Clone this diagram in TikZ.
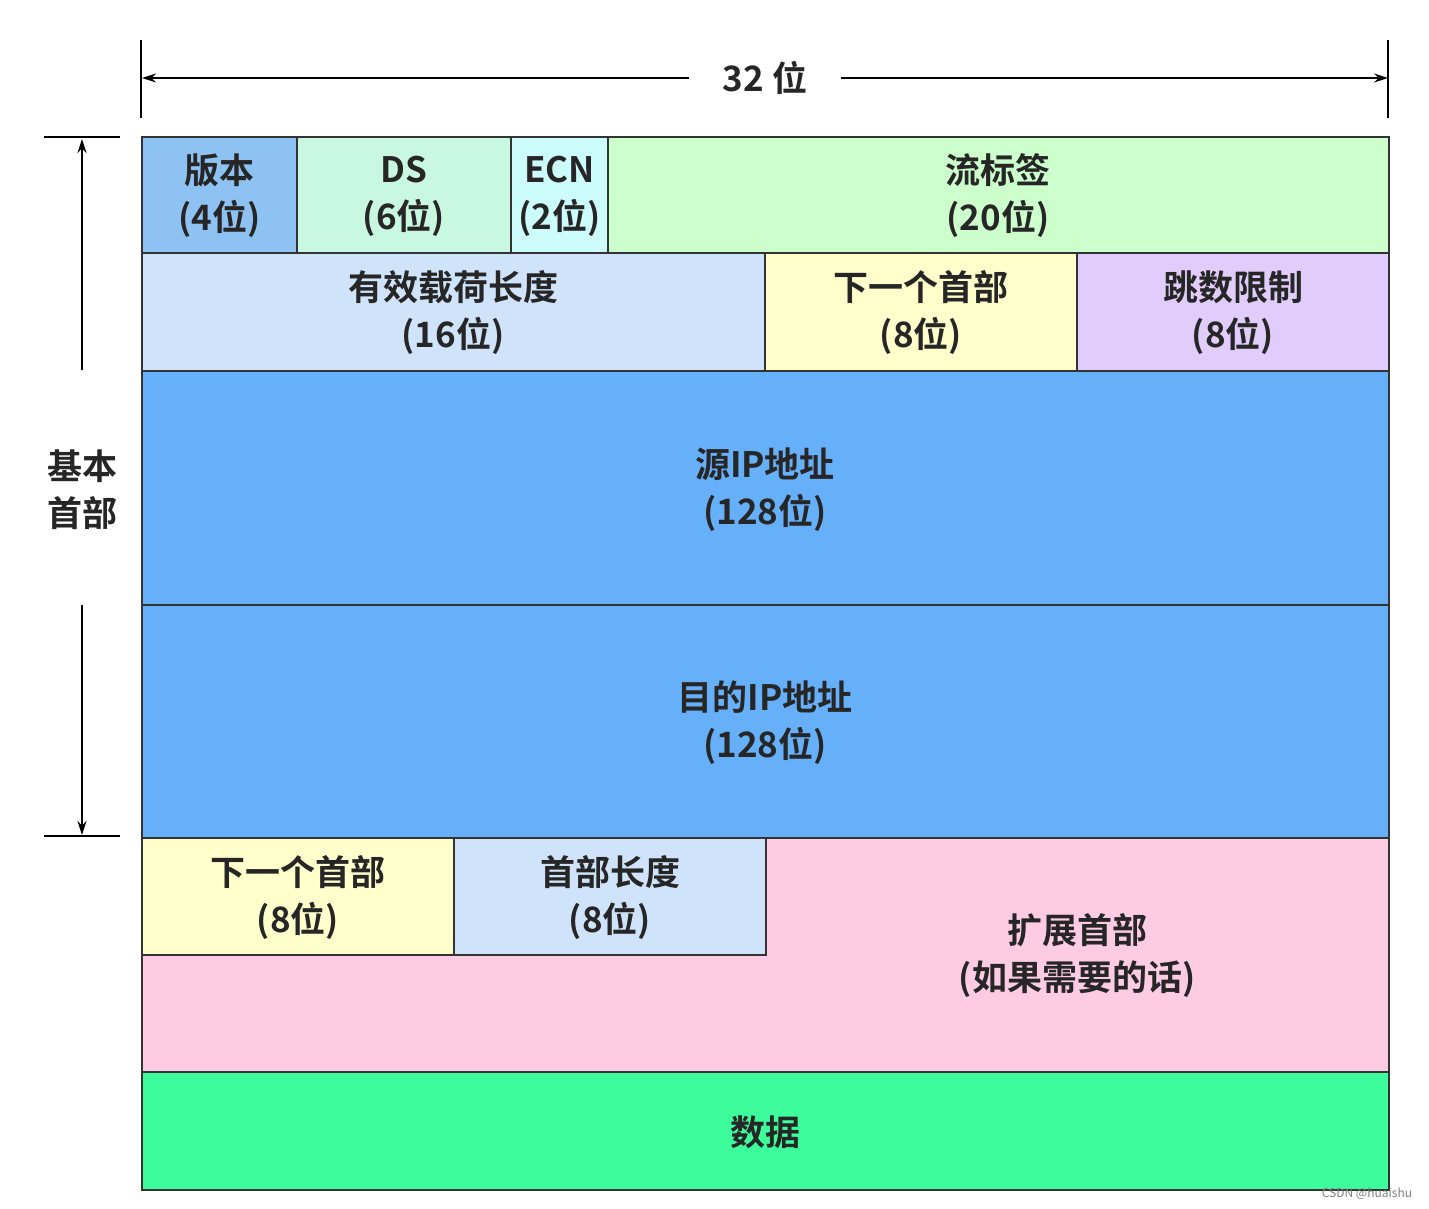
\documentclass[tikz,border=0pt]{standalone}
\usepackage{fontspec}
\setmainfont{Noto Sans CJK SC}[BoldFont={* Bold}]
\usetikzlibrary{arrows.meta}
\definecolor{cver}{HTML}{8EC2F2}
\definecolor{cds}{HTML}{C9F8E2}
\definecolor{cecn}{HTML}{CCFCFC}
\definecolor{cflow}{HTML}{CCFFCC}
\definecolor{clen}{HTML}{CFE4FB}
\definecolor{cnext}{HTML}{FFFFCC}
\definecolor{chop}{HTML}{E1CDFB}
\definecolor{cip}{HTML}{66B0FA}
\definecolor{cext}{HTML}{FDCCE3}
\definecolor{cdata}{HTML}{3CFC9C}
\definecolor{edge}{HTML}{333333}
\tikzset{
  fld/.style={draw=edge,line width=1.2pt},
  lbl/.style={font=\fontsize{35}{47}\selectfont\bfseries,align=center,text=black!85},
  dim/.style={line width=1.2pt,-{Stealth[length=14pt,width=9pt]}},
}
\begin{document}
\begin{tikzpicture}[x=1pt,y=-1pt]
\useasboundingbox[fill=white] (0,0) rectangle (1429,1209);
% fields
\path[fld,fill=cver] (142,137) rectangle (297,253);
\path[fld,fill=cds] (297,137) rectangle (511,253);
\path[fld,fill=cecn] (511,137) rectangle (608,253);
\path[fld,fill=cflow] (608,137) rectangle (1389,253);
\path[fld,fill=clen] (142,253) rectangle (765,371);
\path[fld,fill=cnext] (765,253) rectangle (1077,371);
\path[fld,fill=chop] (1077,253) rectangle (1389,371);
\path[fld,fill=cip] (142,371) rectangle (1389,605);
\path[fld,fill=cip] (142,605) rectangle (1389,838);
\path[fld,fill=cext] (142,838) rectangle (1389,1072);
\path[fld,fill=cnext] (142,838) rectangle (454,955);
\path[fld,fill=clen] (454,838) rectangle (766,955);
\path[fld,fill=cdata] (142,1072) rectangle (1389,1190);
% labels
\node[lbl] (ver) at (219.5,196) {版本\\(4位)};
\node[lbl] (ds) at (404,196) {DS\\(6位)};
\node[lbl] (ecn) at (559.5,196) {ECN\\(2位)};
\node[lbl] (flow) at (998,196) {流标签\\(20位)};
\node[lbl] (len) at (453,313) {有效载荷长度\\(16位)};
\node[lbl] (nh) at (921,313) {下一个首部\\(8位)};
\node[lbl] (hop) at (1233,313) {跳数限制\\(8位)};
\node[lbl] (src) at (765,490) {源IP地址\\(128位)};
\node[lbl] (dst) at (765,723) {目的IP地址\\(128位)};
\node[lbl] (nh2) at (298,898) {下一个首部\\(8位)};
\node[lbl] (hl) at (610,898) {首部长度\\(8位)};
\node[lbl] (ext) at (1077,956) {扩展首部\\(如果需要的话)};
\node[lbl] (data) at (765,1132) {数据};
% top dimension
\node[lbl] (w) at (765,78) {32 位};
\coordinate (tl) at (142,78); \coordinate (tr) at (1388,78);
\draw[line width=1.2pt] (141,40) -- (141,118) (1388,40) -- (1388,118);
\draw[dim] (w.west) ++(-30,0) -- (tl);
\draw[dim] (w.east) ++(30,0) -- (tr);
% left dimension
\node[lbl] (base) at (82,490) {基本\\首部};
\coordinate (bt) at (82,139); \coordinate (bb) at (82,835);
\draw[line width=1.2pt] (44,137) -- (120,137) (44,836) -- (120,836);
\draw[dim] (82,370) -- (bt);
\draw[dim] (82,605) -- (bb);
\node[font=\fontsize{12}{14}\selectfont,text=gray] (wm) at (1367,1194) {CSDN @huaishu};
\end{tikzpicture}
\end{document}
